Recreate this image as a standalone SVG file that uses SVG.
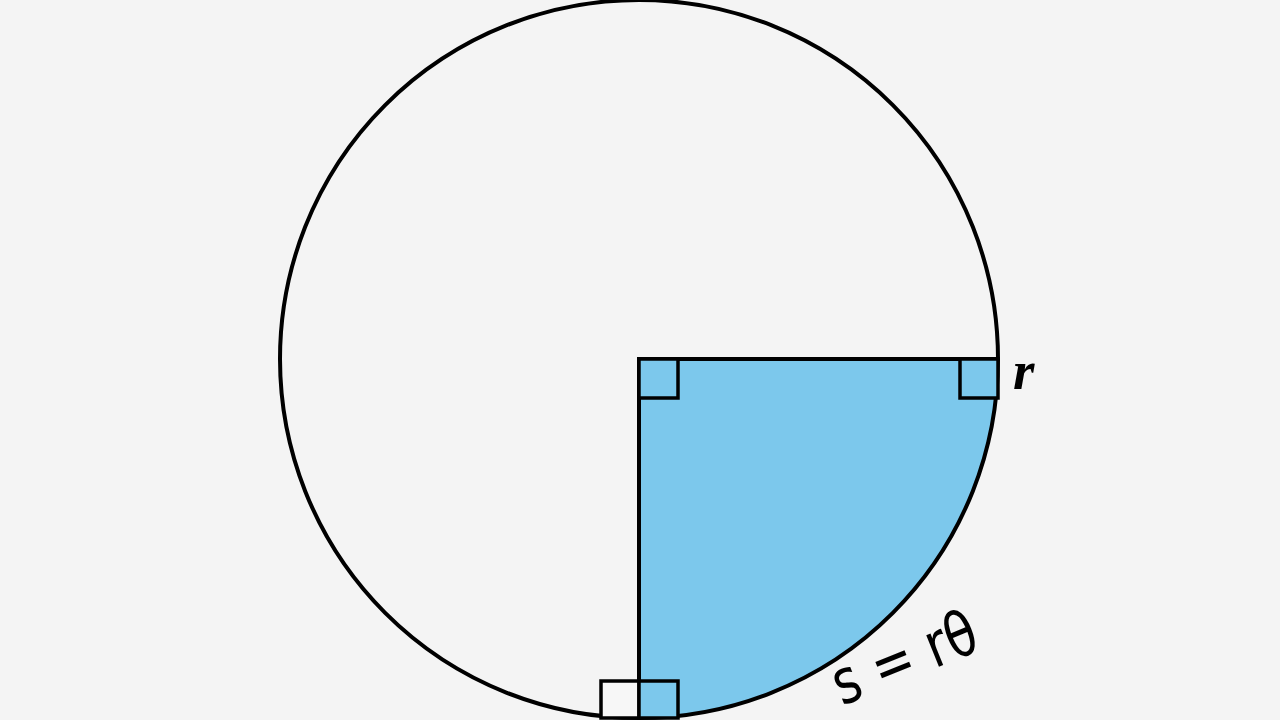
<svg xmlns="http://www.w3.org/2000/svg" width="1280" height="720" viewBox="0 0 1280 720">
<style>
.ln{fill:none;stroke:#000;stroke-width:4;stroke-linejoin:miter}
.sq{stroke:#000;stroke-width:3.5}
</style>
<rect width="1280" height="720" fill="#f4f4f4"/>
<g id="sector">
<path d="M639,359 L998,359 A359,359 0 0 1 639,718 Z" fill="#7cc8ec"/>
</g>
<g id="circle">
<circle cx="639" cy="359" r="359" class="ln" stroke-width="3.5"/>
</g>
<g id="connectors">
<path class="ln" d="M998,359 L639,359 L639,718"/>
</g>
<g id="right-angles">
<rect class="sq" x="639" y="359" width="39" height="39" fill="#7cc8ec"/>
<rect class="sq" x="960" y="359" width="38" height="39" fill="#7cc8ec"/>
<rect class="sq" x="601" y="681" width="38" height="37" fill="#f7f7f7"/>
<rect class="sq" x="639" y="681" width="39" height="37" fill="#7cc8ec"/>
</g>
<g id="labels">
<text x="1013" y="389" font-family="Liberation Serif, serif" font-style="italic" font-weight="bold" font-size="55">r</text>
<text transform="translate(842,706) rotate(-22) scale(0.93,1.15)" font-family="DejaVu Sans, sans-serif" font-size="54">s = rθ</text>
</g>
</svg>
